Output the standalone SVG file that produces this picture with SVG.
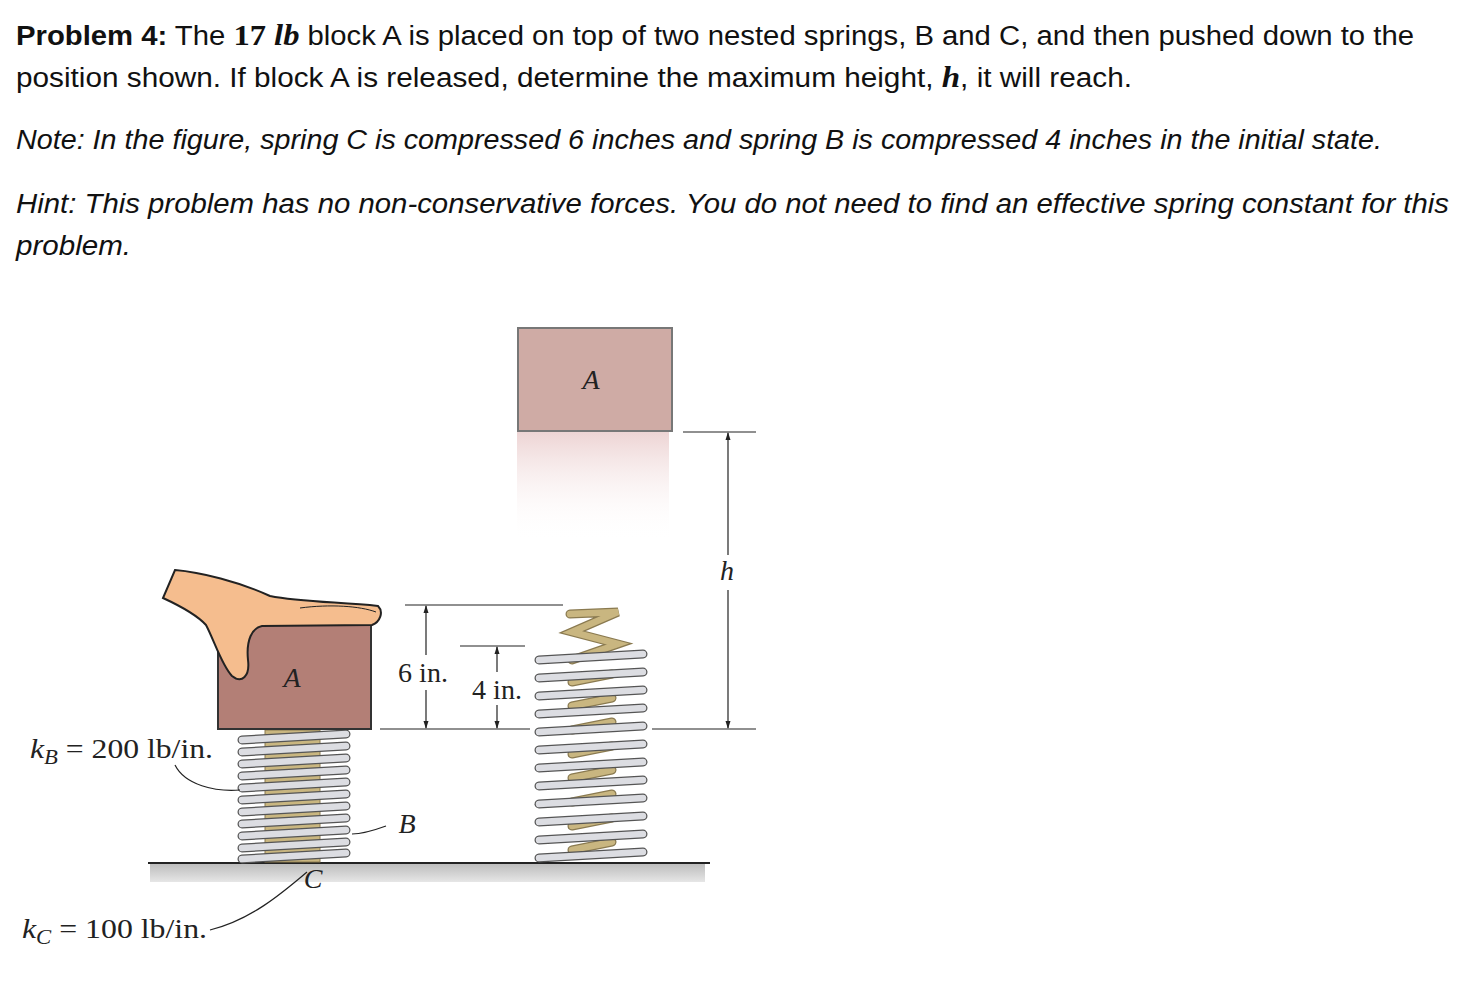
<svg xmlns="http://www.w3.org/2000/svg" xmlns:xlink="http://www.w3.org/1999/xlink" width="1464" height="990" viewBox="0 0 1464 990">
<style>
.t{font-family:"Liberation Sans",Arial,sans-serif;font-size:27px;fill:#111}
.i{font-style:italic}
.f{font-family:"Liberation Serif","Times New Roman",serif;font-size:28px;fill:#222}
.d{stroke:#222;stroke-width:1.2;fill:none}
.co{stroke:#555;stroke-width:9;stroke-linecap:round;fill:none}
.ci{stroke:#dcdde2;stroke-width:6.5;stroke-linecap:round;fill:none}
.go{stroke:#8a7a50;stroke-width:9;stroke-linecap:round;fill:none}
.gi{stroke:#c9b680;stroke-width:6.5;stroke-linecap:round;fill:none}
</style>
<defs>
<marker id="ar" markerWidth="8" markerHeight="8" refX="7" refY="4" orient="auto" markerUnits="userSpaceOnUse"><path d="M0,1.5 L8,4 L0,6.5Z" fill="#222"/></marker>
<linearGradient id="gr" x1="0" y1="0" x2="0" y2="1"><stop offset="0" stop-color="#bdbdbd"/><stop offset="1" stop-color="#e6e6e6"/></linearGradient>
<linearGradient id="fade" x1="0" y1="0" x2="0" y2="1"><stop offset="0" stop-color="#e8c8c8" stop-opacity="0.8"/><stop offset="1" stop-color="#fff" stop-opacity="0"/></linearGradient>
<g id="coil"><path class="co" d="M0,0 L104,-6"/><path class="ci" d="M0,0 L104,-6"/></g>
<g id="gcoil"><path class="go" d="M0,0 L40,-8"/><path class="gi" d="M0,0 L40,-8"/></g>
</defs>

<g id="text">
<text class="t" x="16" y="45" textLength="1398" lengthAdjust="spacingAndGlyphs"><tspan font-weight="bold">Problem 4:</tspan> The <tspan font-family="Liberation Serif" font-weight="bold" font-size="30">17 <tspan font-style="italic">lb</tspan></tspan> block A is placed on top of two nested springs, B and C, and then pushed down to the</text>
<text class="t" x="16" y="87" textLength="1116" lengthAdjust="spacingAndGlyphs">position shown. If block A is released, determine the maximum height, <tspan font-family="Liberation Serif" font-weight="bold" font-style="italic" font-size="30">h</tspan>, it will reach.</text>
<text class="t i" x="16" y="149" textLength="1366" lengthAdjust="spacingAndGlyphs">Note: In the figure, spring C is compressed 6 inches and spring B is compressed 4 inches in the initial state.</text>
<text class="t i" x="16" y="213" textLength="1433" lengthAdjust="spacingAndGlyphs">Hint: This problem has no non-conservative forces.  You do not need to find an effective spring constant for this</text>
<text class="t i" x="16" y="255" textLength="115" lengthAdjust="spacingAndGlyphs">problem.</text>
</g>

<g id="ground">
<rect x="150" y="864" width="555" height="18" fill="url(#gr)"/>
<line x1="148" y1="863" x2="710" y2="863" stroke="#222" stroke-width="2"/>
</g>

<g id="springLeft">
<rect x="265" y="730" width="55" height="132" fill="#c9b680" stroke="#8a7a50"/>
<use href="#coil" x="242" y="740"/><use href="#coil" x="242" y="752"/><use href="#coil" x="242" y="764"/>
<use href="#coil" x="242" y="776"/><use href="#coil" x="242" y="788"/><use href="#coil" x="242" y="800"/>
<use href="#coil" x="242" y="812"/><use href="#coil" x="242" y="824"/><use href="#coil" x="242" y="836"/>
<use href="#coil" x="242" y="848"/><use href="#coil" x="242" y="859"/>
</g>

<g id="springRight">
<path class="go" d="M570,614 L618,612 L572,632 L618,644 L572,660"/>
<path class="gi" d="M570,614 L618,612 L572,632 L618,644 L572,660"/>
<use href="#gcoil" x="572" y="682"/><use href="#gcoil" x="572" y="706"/><use href="#gcoil" x="572" y="730"/>
<use href="#gcoil" x="572" y="754"/><use href="#gcoil" x="572" y="778"/><use href="#gcoil" x="572" y="802"/>
<use href="#gcoil" x="572" y="826"/><use href="#gcoil" x="572" y="850"/>
<use href="#coil" x="539" y="660"/><use href="#coil" x="539" y="678"/><use href="#coil" x="539" y="696"/>
<use href="#coil" x="539" y="714"/><use href="#coil" x="539" y="732"/><use href="#coil" x="539" y="750"/>
<use href="#coil" x="539" y="768"/><use href="#coil" x="539" y="786"/><use href="#coil" x="539" y="804"/>
<use href="#coil" x="539" y="822"/><use href="#coil" x="539" y="840"/><use href="#coil" x="539" y="858"/>
</g>

<g id="blockA1">
<rect x="218" y="625" width="153" height="104" fill="#b37f76" stroke="#333" stroke-width="2"/>
<text class="f i" x="292" y="687" text-anchor="middle" fill="#555">A</text>
</g>

<g id="hand">
<path d="M175,570 C200,572 240,582 270,596 C300,602 340,602 378,606 C384,612 380,622 372,625 L262,626 C252,628 246,640 248,660 C250,676 242,684 232,676 C222,666 214,640 206,625 C196,614 176,604 163,598 Z" fill="#f5bd8e" stroke="#222" stroke-width="2"/>
<path d="M300,608 C330,604 360,606 376,612" fill="none" stroke="#222" stroke-width="1"/>
</g>

<g id="blockA2">
<rect x="517" y="431" width="152" height="110" fill="url(#fade)"/>
<rect x="518" y="328" width="154" height="103" fill="#cfaba5" stroke="#777" stroke-width="2"/>
<text class="f i" x="591" y="389" text-anchor="middle" fill="#555">A</text>
</g>

<g id="connectors">
<line class="d" x1="405" y1="605" x2="563" y2="605"/>
<line class="d" x1="380" y1="729" x2="530" y2="729"/>
<line class="d" x1="426" y1="655" x2="426" y2="606" marker-end="url(#ar)"/>
<line class="d" x1="426" y1="690" x2="426" y2="728" marker-end="url(#ar)"/>
<line class="d" x1="460" y1="646" x2="525" y2="646"/>
<line class="d" x1="497" y1="672" x2="497" y2="647" marker-end="url(#ar)"/>
<line class="d" x1="497" y1="705" x2="497" y2="728" marker-end="url(#ar)"/>
<line class="d" x1="683" y1="432" x2="756" y2="432"/>
<line class="d" x1="652" y1="729" x2="756" y2="729"/>
<line class="d" x1="728" y1="555" x2="728" y2="433" marker-end="url(#ar)"/>
<line class="d" x1="728" y1="590" x2="728" y2="728" marker-end="url(#ar)"/>
<path class="d" d="M175,765 C185,785 215,792 240,790"/>
<path class="d" d="M386,826 C375,830 362,834 352,834"/>
<path class="d" d="M307,872 C280,895 250,920 210,930"/>
</g>

<g id="labels">
<text class="f" x="423" y="682" text-anchor="middle">6 in.</text>
<text class="f" x="497" y="699" text-anchor="middle">4 in.</text>
<text class="f i" x="727" y="580" text-anchor="middle">h</text>
<text class="f i" x="407" y="833" text-anchor="middle" font-size="26">B</text>
<text class="f i" x="313" y="888" text-anchor="middle" font-size="24">C</text>
<text class="f" x="30" y="758" textLength="183" lengthAdjust="spacingAndGlyphs"><tspan font-style="italic">k</tspan><tspan font-style="italic" font-size="20" dy="6">B</tspan><tspan dy="-6"> = 200 lb/in.</tspan></text>
<text class="f" x="22" y="938" textLength="185" lengthAdjust="spacingAndGlyphs"><tspan font-style="italic">k</tspan><tspan font-style="italic" font-size="20" dy="6">C</tspan><tspan dy="-6"> = 100 lb/in.</tspan></text>
</g>
</svg>
